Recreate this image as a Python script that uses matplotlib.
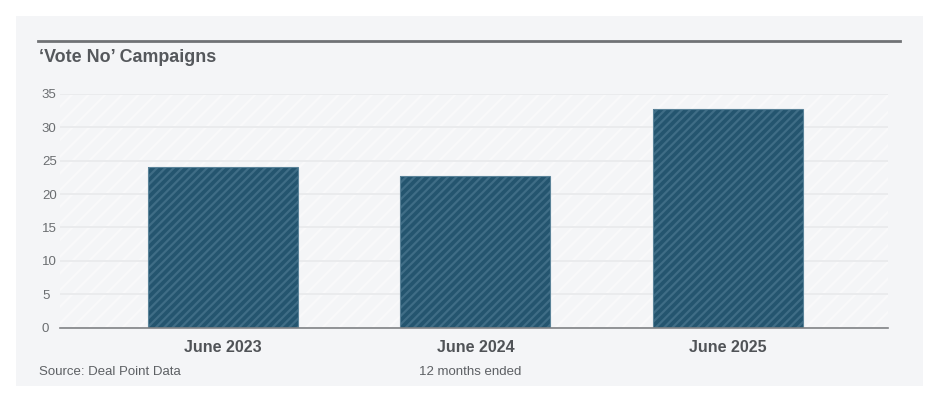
import matplotlib.pyplot as plt
from matplotlib.patches import Rectangle
from matplotlib.lines import Line2D

# data
categorias = ["June 2023", "June 2024", "June 2025"]
valores = [24.0, 22.7, 32.7]
yticks = [0, 5, 10, 15, 20, 25, 30, 35]

plt.rcParams['font.family'] = ['Liberation Sans', 'DejaVu Sans']
plt.rcParams['hatch.linewidth'] = 1.6

W, H = 933, 399
fig = plt.figure(figsize=(W / 100, H / 100), dpi=100)
fig.patch.set_facecolor('white')

# painel cinza claro
fig.patches.append(Rectangle((16 / W, 1 - 386 / H), (923 - 16) / W, (386 - 16) / H,
                             transform=fig.transFigure, facecolor='#f4f5f7',
                             edgecolor='none', zorder=-5))
# linha do topo
fig.add_artist(Line2D([38 / W, 900 / W], [1 - 41 / H, 1 - 41 / H],
                      transform=fig.transFigure, color='#707275', lw=2))

esq, dir_, base, topo = 60, 888, 327.5, 94
ax = fig.add_axes([esq / W, 1 - base / H, (dir_ - esq) / W, (base - topo) / H])
ax.set_facecolor('none')

# fundo listrado
ax.add_patch(Rectangle((0, 0), 1, 1, transform=ax.transAxes, facecolor='none',
                       edgecolor='#f9f9fa', hatch='//', lw=0, zorder=0, clip_on=False))

x = list(range(len(categorias)))
ax.bar(x, valores, width=0.594, color='#24556f', edgecolor='#3f6d86',
       hatch='////', linewidth=0, zorder=3)
# borda clara das barras
ax.bar(x, valores, width=0.594, color='none', edgecolor='#5a8399',
       linewidth=0.8, zorder=3.5)

ax.set_xlim(-0.645, 2.634)
ax.set_ylim(0, 35)
ax.set_yticks(yticks)
ax.set_yticklabels([str(t) for t in yticks])
ax.yaxis.grid(True, color='#e8e9eb', lw=1.2, zorder=1)
ax.set_axisbelow(True)
ax.set_xticks(x)
ax.set_xticklabels(categorias, fontsize=11.5, fontweight='bold', color='#505357')
for s in ['top', 'right', 'left']:
    ax.spines[s].set_visible(False)
ax.spines['bottom'].set_color('#808285')
ax.spines['bottom'].set_linewidth(1.2)
ax.spines['bottom'].set_zorder(4)
ax.tick_params(axis='x', length=0, pad=9)
ax.tick_params(axis='y', length=0, labelsize=9.5, labelcolor='#6a6d70', pad=13)
for lab in ax.get_yticklabels():
    lab.set_horizontalalignment('left')

fig.text(39 / W, 1 - 57 / H, "\u2018Vote No\u2019 Campaigns", fontsize=12.9,
         fontweight='bold', color='#55585c', va='center', ha='left')
fig.text(39 / W, 1 - 372 / H, "Source: Deal Point Data", fontsize=9.5,
         color='#5d6064', va='center', ha='left')
fig.text(470 / W, 1 - 372 / H, "12 months ended", fontsize=9.5,
         color='#5d6064', va='center', ha='center')

fig.savefig('out.png', dpi=100)
